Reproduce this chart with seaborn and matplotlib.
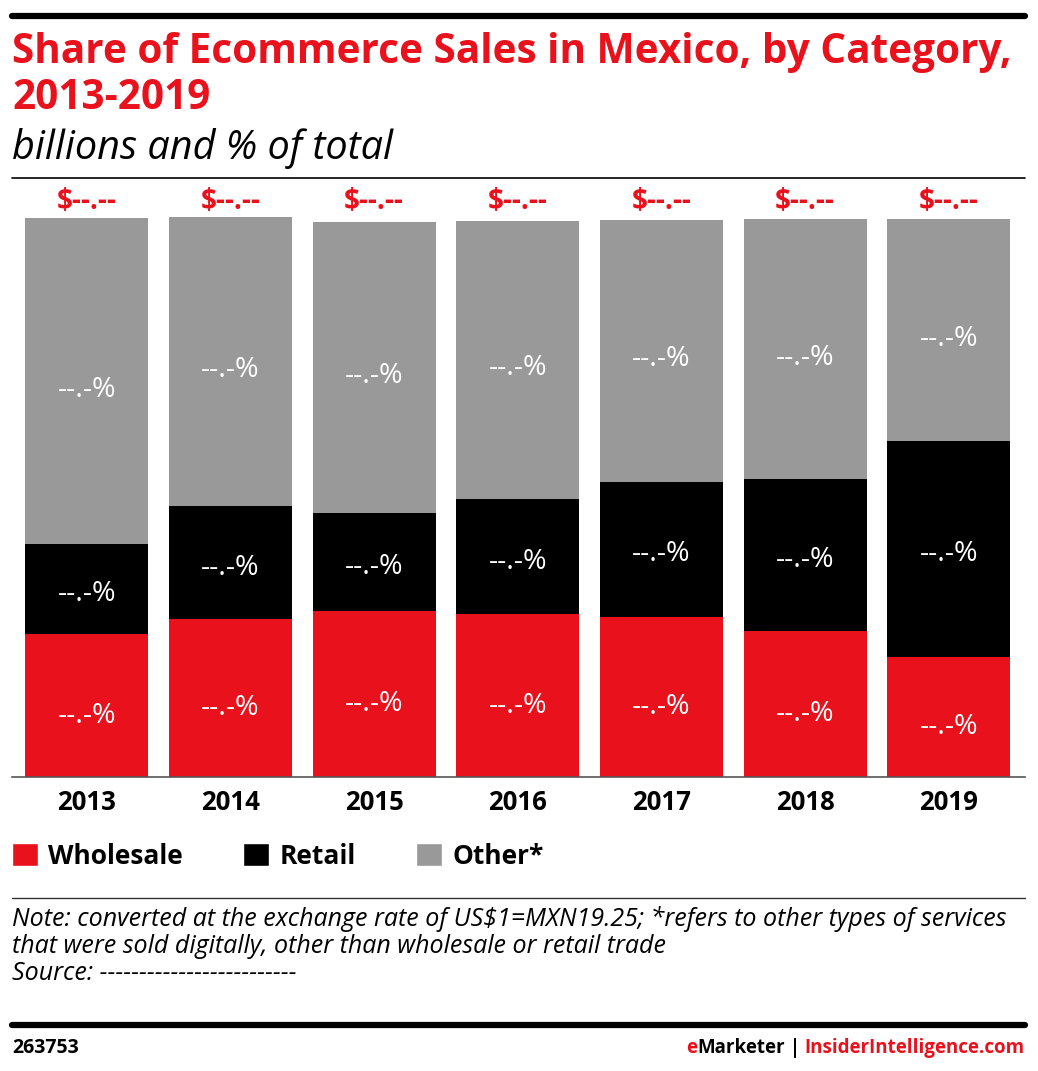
import numpy as np
import pandas as pd
import matplotlib
matplotlib.use("Agg")
import matplotlib.pyplot as plt
from matplotlib.lines import Line2D
from matplotlib.patches import Patch
import seaborn as sns

# values (share of total, %)
years = ["2013", "2014", "2015", "2016", "2017", "2018", "2019"]
wholesale = [25.5, 28.2, 29.6, 29.1, 28.6, 26.1, 21.4]
retail = [16.1, 20.2, 17.5, 20.5, 24.1, 27.1, 38.6]
other = [58.2, 51.6, 52.1, 49.8, 46.8, 46.4, 39.6]
totals_lbl = ["$--.--"] * 7
pct_lbl = "--.-%"

RED = "#e8111c"
GRAY = "#999999"
BLACK = "#000000"

sns.set_theme(style="white")
plt.rcParams["font.family"] = ["Open Sans", "DejaVu Sans"]
plt.rcParams["text.color"] = "black"

W, H = 1038, 1071
fig = plt.figure(figsize=(W / 100, H / 100), dpi=100)

def fx(x):
    return x / W

def fy(y):
    return 1 - y / H

ax = fig.add_axes([fx(12), fy(777), fx(1025) - fx(12), fy(178) - fy(777)])

df = pd.DataFrame({"year": years, "wholesale": wholesale, "retail": retail, "other": other})
df["wr"] = df["wholesale"] + df["retail"]
df["total"] = df["wr"] + df["other"]

bw = 0.856
sns.barplot(data=df, x="year", y="total", color=GRAY, saturation=1, width=bw, linewidth=0, ax=ax)
sns.barplot(data=df, x="year", y="wr", color=BLACK, saturation=1, width=bw, linewidth=0, ax=ax)
sns.barplot(data=df, x="year", y="wholesale", color=RED, saturation=1, width=bw, linewidth=0, ax=ax)

ax.set_xlim(-0.52, 6.53)
ax.set_ylim(0, 107.0)
ax.set_xlabel("")
ax.set_ylabel("")
ax.set_yticks([])
for s in ["top", "left", "right"]:
    ax.spines[s].set_visible(False)
ax.spines["bottom"].set_color("#555555")
ax.spines["bottom"].set_linewidth(1.2)
ax.tick_params(axis="x", length=0, pad=9, labelsize=18.5, labelcolor="black")
for t in ax.get_xticklabels():
    t.set_fontweight("bold")

# segment labels (slightly below the segment middle, like the original)
for i in range(len(years)):
    w, r, o = wholesale[i], retail[i], other[i]
    ax.text(i, w / 2 - 1.8, pct_lbl, color="white", ha="center", va="center", fontsize=20.5)
    ax.text(i, w + r / 2 - 0.9, pct_lbl, color="white", ha="center", va="center", fontsize=20.5)
    ax.text(i, w + r + o / 2 - 1.5, pct_lbl, color="white", ha="center", va="center", fontsize=20.5)
    ax.text(i, 102.8, totals_lbl[i], color=RED, ha="center", va="center",
            fontsize=20, fontweight="bold")

# header
fig.add_artist(Line2D([fx(12), fx(1025)], [fy(16), fy(16)], color="black", lw=4.5))
fig.text(fx(12), fy(63), "Share of Ecommerce Sales in Mexico, by Category,",
         color=RED, fontsize=29.2, fontweight="bold", va="baseline", ha="left")
fig.text(fx(12), fy(109), "2013-2019",
         color=RED, fontsize=29.2, fontweight="bold", va="baseline", ha="left")
fig.text(fx(12), fy(159), "billions and % of total",
         color="black", fontsize=28.5, fontstyle="italic", va="baseline", ha="left")
fig.add_artist(Line2D([fx(12), fx(1025)], [fy(178), fy(178)], color="black", lw=1.2))

# legend
handles = [Patch(facecolor=RED, label="Wholesale"),
           Patch(facecolor=BLACK, label="Retail"),
           Patch(facecolor=GRAY, label="Other*")]
leg = fig.legend(handles=handles, loc="center left", bbox_to_anchor=(fx(12), fy(856)),
                 ncol=3, frameon=False, fontsize=19, handlelength=0.985, handleheight=0.985,
                 handletextpad=0.38, columnspacing=2.3, borderpad=0, borderaxespad=0,
                 labelcolor="black")
for t in leg.get_texts():
    t.set_fontweight("bold")

# note
fig.add_artist(Line2D([fx(12), fx(1025)], [fy(898), fy(898)], color="#333333", lw=1))
notes = ["Note: converted at the exchange rate of US$1=MXN19.25; *refers to other types of services",
         "that were sold digitally, other than wholesale or retail trade",
         "Source: -------------------------"]
for k, line in enumerate(notes):
    fig.text(fx(12), fy(926 + 27 * k), line, fontsize=18, fontstyle="italic",
             va="baseline", ha="left", color="black")

# footer
fig.add_artist(Line2D([fx(12), fx(1025)], [fy(1025), fy(1025)], color="black", lw=4.5))
fig.text(fx(12), fy(1053), "263753", fontsize=14, fontweight="bold", va="baseline",
         ha="left", color="black")

r = fig.canvas.get_renderer()
parts = [("InsiderIntelligence.com", RED), (" | ", BLACK), ("Marketer", BLACK), ("e", RED)]
xr = fx(1025)
for txt, col in parts:
    t = fig.text(xr, fy(1053), txt, fontsize=13.5, fontweight="bold", color=col,
                 va="baseline", ha="right")
    bb = t.get_window_extent(renderer=r)
    xr -= bb.width / W

fig.savefig("out.png", dpi=100)
